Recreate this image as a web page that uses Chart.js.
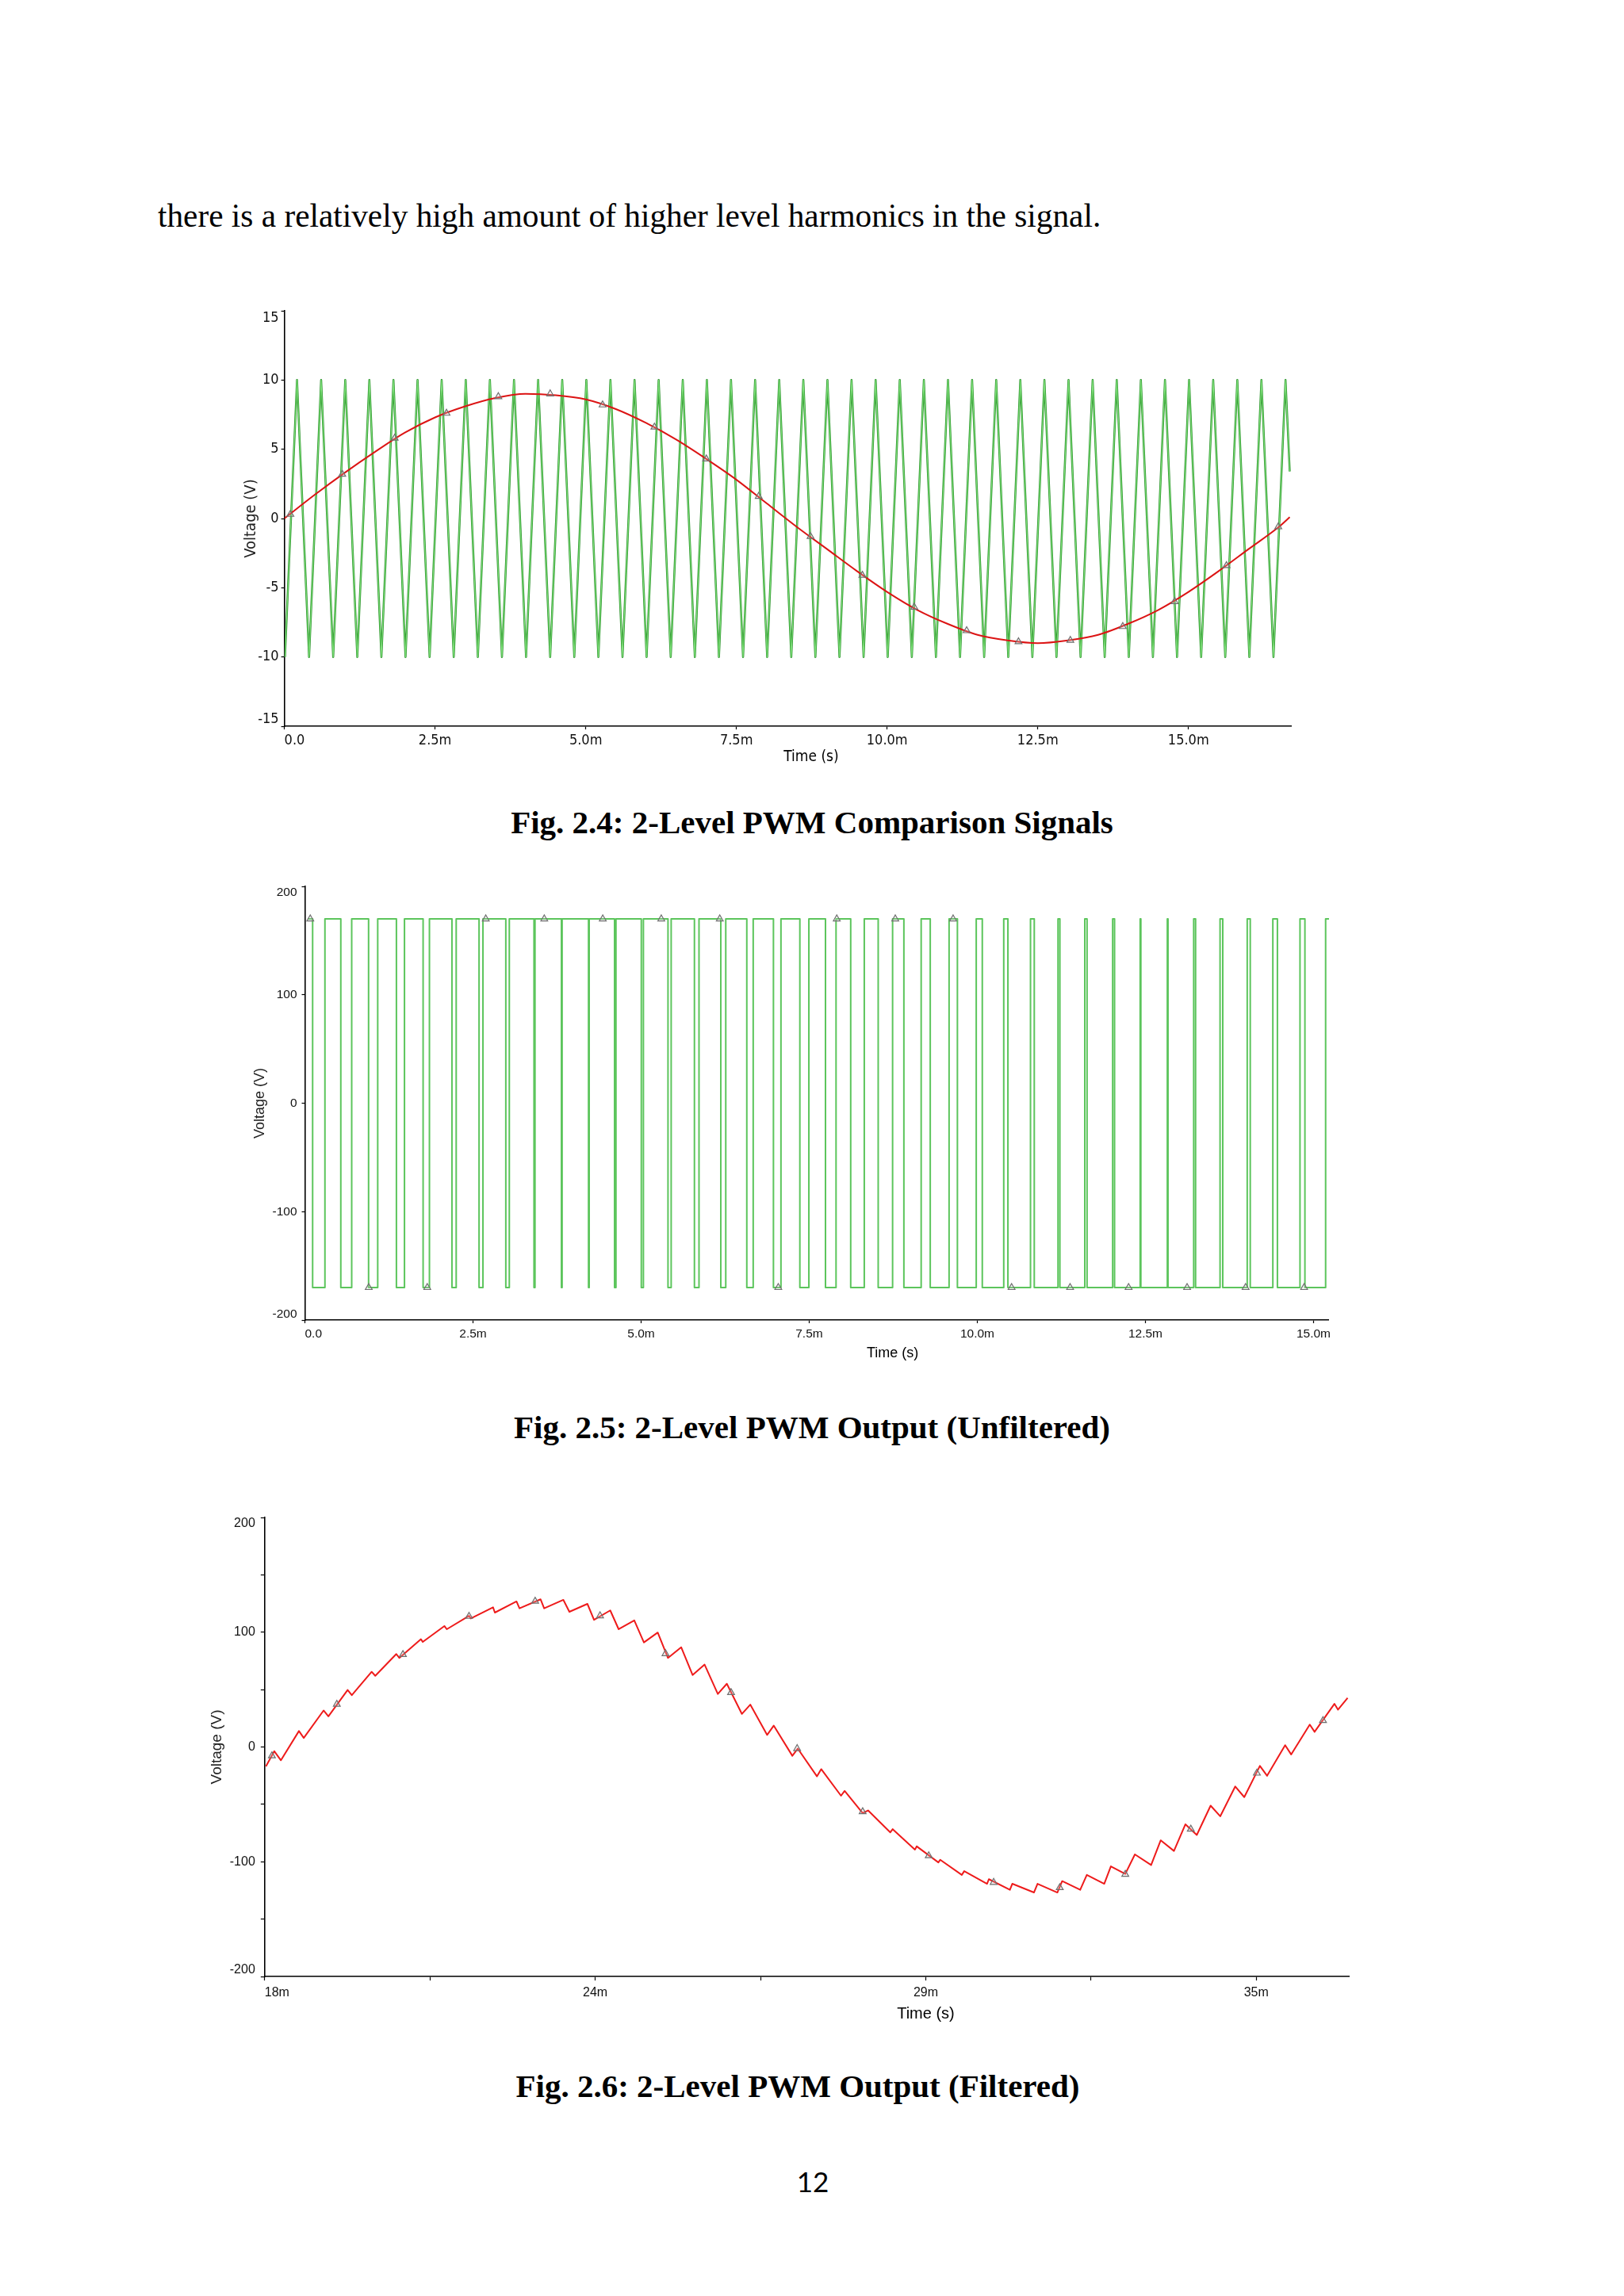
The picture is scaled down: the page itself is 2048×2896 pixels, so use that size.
<!DOCTYPE html>
<html>
<head>
<meta charset="utf-8">
<script src="https://cdn.jsdelivr.net/npm/chart.js@4.4.1/dist/chart.umd.min.js"></script>
<style>
  html, body { margin: 0; padding: 0; background: #fff; }
  .page { position: relative; width: 2048px; height: 2896px; overflow: hidden; background: #fff; }
  .txt { position: absolute; white-space: nowrap; line-height: 1; color: #000; }
  .body-text { left: 199px; top: 248px; font: 41.3px 'Liberation Serif', 'Times New Roman', serif; }
  .caption { left: 0; width: 2048px; text-align: center; font: bold 41px 'Liberation Serif', 'Times New Roman', serif; }
  .page-num { left: 0; width: 2050px; top: 2730px; text-align: center; font: 35px Lato, 'Open Sans', sans-serif; }
  canvas { position: absolute; }
</style>
</head>
<body>
<div class="page">
  <div class="txt body-text">there is a relatively high amount of higher level harmonics in the signal.</div>
  <canvas id="chart1" width="1400" height="610" style="left:240px;top:370px"></canvas>
  <div class="txt caption" style="top:1013px">Fig. 2.4: 2-Level PWM Comparison Signals</div>
  <canvas id="chart2" width="1424" height="640" style="left:260px;top:1090px"></canvas>
  <div class="txt caption" style="top:1776px">Fig. 2.5: 2-Level PWM Output (Unfiltered)</div>
  <canvas id="chart3" width="1520" height="680" style="left:200px;top:1890px"></canvas>
  <div class="txt caption" style="top:2607px;left:-18px">Fig. 2.6: 2-Level PWM Output (Filtered)</div>
  <div class="txt page-num">12</div>
</div>

<script>
// ---- Fig 2.4: comparison signals (time in ms) ----
const carrierTroughT = [0.01, 0.41, 0.81, 1.21, 1.61, 2.01, 2.41, 2.81, 3.21, 3.61, 4.01, 4.41, 4.81, 5.21,
    5.61, 6.01, 6.41, 6.81, 7.21, 7.61, 8.01, 8.41, 8.81, 9.21, 9.61, 10.01, 10.41, 10.81, 11.21, 11.61,
    12.01, 12.41, 12.81, 13.21, 13.61, 14.01, 14.41, 14.81, 15.21, 15.61, 16.01, 16.41];
const carrierPeakT = [0.21, 0.61, 1.01, 1.41, 1.81, 2.21, 2.61, 3.01, 3.41, 3.81, 4.21, 4.61, 5.01, 5.41,
    5.81, 6.21, 6.61, 7.01, 7.41, 7.81, 8.21, 8.61, 9.01, 9.41, 9.81, 10.21, 10.61, 11.01, 11.41, 11.81,
    12.21, 12.61, 13.01, 13.41, 13.81, 14.21, 14.61, 15.01, 15.41, 15.81, 16.21, 16.61];
const carrierLevels = [-10, 10];
const carrierEnd = [16.68, 3.4];

const sineT = [0, 0.5, 1, 1.5, 2, 2.5, 3, 3.5, 4, 4.5, 5, 5.5, 6, 6.5, 7, 7.5, 8, 8.5, 9, 9.5, 10, 10.5,
    11, 11.5, 12, 12.5, 13, 13.5, 14, 14.5, 15, 15.5, 16, 16.5, 16.68];
const sineV = [0, 1.7, 3.3, 4.8, 6.2, 7.3, 8.1, 8.7, 9.0, 8.9, 8.6, 7.9, 6.9, 5.7, 4.3, 2.8, 1.1, -0.6,
    -2.2, -3.8, -5.3, -6.6, -7.6, -8.4, -8.8, -9.0, -8.8, -8.4, -7.6, -6.6, -5.3, -3.8, -2.2, -0.6, 0.1];

const markT1 = [0.10, 0.96, 1.83, 2.69, 3.55, 4.41, 5.28, 6.14, 7.00, 7.87, 8.73, 9.59, 10.45, 11.32,
    12.18, 13.04, 13.91, 14.77, 15.63, 16.49];
const markV1 = [0.3, 3.2, 5.8, 7.6, 8.8, 9.0, 8.2, 6.6, 4.3, 1.6, -1.3, -4.1, -6.4, -8.1, -8.9, -8.8,
    -7.8, -6.0, -3.4, -0.6];

const xTicks1 = [0, 2.5, 5, 7.5, 10, 12.5, 15];
const xLabels1 = ['0.0', '2.5m', '5.0m', '7.5m', '10.0m', '12.5m', '15.0m'];
const yTicks1 = [-15, -10, -5, 0, 5, 10, 15];
const yLabels1 = ['-15', '-10', '-5', '0', '5', '10', '15'];

// ---- Fig 2.5: unfiltered PWM output, switch times (ms) and level after each switch ----
const pwmT = [0.05, 0.115, 0.298, 0.534, 0.696, 0.947, 1.083, 1.361, 1.481, 1.758,
    1.852, 2.187, 2.25, 2.59, 2.648, 2.988, 3.04, 3.407, 3.422, 3.815,
    3.825, 4.218, 4.228, 4.605, 4.626, 5.003, 5.034, 5.40, 5.447, 5.793,
    5.861, 6.185, 6.259, 6.572, 6.667, 6.968, 7.08, 7.361, 7.495, 7.742,
    7.899, 8.117, 8.319, 8.526, 8.74, 8.908, 9.165, 9.30, 9.58, 9.704,
    9.984, 10.074, 10.393, 10.455, 10.791, 10.847, 11.20, 11.228, 11.598, 11.632,
    12.013, 12.041, 12.422, 12.432, 12.826, 12.836, 13.218, 13.246, 13.61, 13.65,
    14.014, 14.059, 14.395, 14.463, 14.799, 14.872, 15.18, 15.236];
const pwmV = [170, -170, 170, -170, 170, -170, 170, -170, 170, -170,
    170, -170, 170, -170, 170, -170, 170, -170, 170, -170,
    170, -170, 170, -170, 170, -170, 170, -170, 170, -170,
    170, -170, 170, -170, 170, -170, 170, -170, 170, -170,
    170, -170, 170, -170, 170, -170, 170, -170, 170, -170,
    170, -170, 170, -170, 170, -170, 170, -170, 170, -170,
    170, -170, 170, -170, 170, -170, 170, -170, 170, -170,
    170, -170, 170, -170, 170, -170, 170, 170];

const markT2 = [0.08, 0.95, 1.82, 2.69, 3.56, 4.43, 5.30, 6.17, 7.04, 7.91, 8.78, 9.64, 10.51, 11.38,
    12.25, 13.12, 13.99, 14.86];
const markV2 = [170, -170, -170, 170, 170, 170, 170, 170, -170, 170, 170, 170, -170, -170, -170, -170,
    -170, -170];

const xTicks2 = [0, 2.5, 5, 7.5, 10, 12.5, 15];
const xLabels2 = ['0.0', '2.5m', '5.0m', '7.5m', '10.0m', '12.5m', '15.0m'];
const yTicks2 = [-200, -100, 0, 100, 200];
const yLabels2 = ['-200', '-100', '0', '100', '200'];

// ---- Fig 2.6: filtered output ----
const filtT = [18.02, 18.16, 18.27, 18.57, 18.65, 18.98, 19.06, 19.38, 19.45, 19.78,
    19.84, 20.19, 20.24, 20.60, 20.63, 20.99, 21.03, 21.40, 21.43, 21.80,
    21.83, 22.19, 22.24, 22.59, 22.65, 22.97, 23.07, 23.37, 23.48, 23.75,
    23.89, 24.15, 24.31, 24.54, 24.71, 24.93, 25.12, 25.32, 25.54, 25.69,
    25.94, 26.08, 26.36, 26.47, 26.78, 26.87, 27.19, 27.26, 27.59, 27.65,
    27.95, 28.04, 28.41, 28.45, 28.82, 28.85, 29.21, 29.24, 29.60, 29.64,
    30.02, 30.05, 30.40, 30.44, 30.80, 30.86, 31.19, 31.27, 31.57, 31.68,
    31.97, 32.08, 32.32, 32.48, 32.75, 32.91, 33.13, 33.32, 33.51, 33.74,
    33.90, 34.15, 34.30, 34.56, 34.68, 34.98, 35.08, 35.39, 35.47, 35.80,
    35.86, 36.02];
const filtV = [-16.9, -3.7, -11.6, 13.9, 7.9, 31.8, 26.7, 49.7, 45.1, 65.5,
    62.0, 81.0, 77.6, 93.9, 91.5, 105.4, 102.6, 114.3, 112.0, 121.7,
    117.1, 126.8, 120.8, 128.7, 120.8, 128.2, 117.8, 124.7, 110.8, 119.0,
    102.6, 110.3, 91.1, 99.7, 77.6, 86.9, 62.7, 71.8, 46.2, 55.1,
    28.8, 36.9, 10.5, 18.6, -7.7, -1.4, -25.6, -19.3, -42.5, -38.3,
    -57.6, -55.3, -74.4, -71.6, -89.4, -86.6, -100.6, -98.3, -111.5, -108.2,
    -119.2, -115.2, -124.5, -119.2, -126.8, -119.2, -126.8, -116.9, -124.5, -111.5,
    -119.2, -104.0, -110.6, -93.6, -102.9, -81.3, -90.6, -67.4, -76.7, -51.1,
    -60.4, -34.4, -43.7, -16.5, -25.1, 1.6, -6.5, 19.5, 13.2, 37.6,
    32.5, 42.7];

const markT3 = [18.12, 19.20, 20.30, 21.40, 22.50, 23.58, 24.67, 25.76, 26.86, 27.95, 29.05, 30.13,
    31.23, 32.32, 33.41, 34.51, 35.61];
const markV3 = [-7.7, 37.2, 80.6, 113.8, 127.0, 114.3, 81.3, 47.4, -1.4, -56.4, -94.8, -118.0,
    -122.6, -111.0, -71.6, -22.8, 23.0];

const xTicks3 = [18, 20.75, 23.5, 26.25, 29, 31.75, 34.5];
const xLabels3 = ['18m', '', '24m', '', '29m', '', '35m'];
const yTicks3 = [-200, -150, -100, -50, 0, 50, 100, 150, 200];
const yLabels3 = ['-200', '', '-100', '', '0', '', '100', '', '200'];

const SANS = "'Liberation Sans', Arial, sans-serif";
const NARROW = "'Liberation Sans Narrow', 'DejaVu Sans Condensed', 'Liberation Sans', sans-serif";

const toPoints = (xs, ys) => xs.map((x, i) => ({ x, y: ys[i] }));

// x axis title drawn under a given time value (the simulator does not centre it)
const xTitlePlugin = {
    id: 'xTitle',
    afterDraw(chart, args, opts) {
        const { ctx } = chart;
        const x = chart.scales.x.getPixelForValue(opts.at);
        ctx.save();
        ctx.font = `${opts.size}px ${opts.family}`;
        ctx.fillStyle = '#000';
        ctx.textAlign = 'center';
        ctx.textBaseline = 'middle';
        ctx.fillText(opts.text, x, opts.y);
        ctx.restore();
    }
};

// end labels sit inside the axis like in the simulator plots
const yLabelCb = (labels) => (value, index, ticks) => {
    const text = labels[index];
    if (index === ticks.length - 1) return ['', text];
    if (index === 0) return [text, ''];
    return text;
};
const xLabelCb = (labels, pad) => (value, index) =>
    index === 0 ? ' '.repeat(pad) + labels[0] : labels[index];

const markerSet = (xs, ys) => ({
    data: toPoints(xs, ys),
    showLine: false,
    pointStyle: 'triangle',
    pointRadius: 5,
    pointBorderWidth: 1.2,
    pointBorderColor: '#6f6f6f',
    pointBackgroundColor: 'rgba(200, 200, 200, 0.25)'
});

const makeChart = (id, c) => new Chart(document.getElementById(id), {
    type: 'line',
    data: { datasets: c.datasets },
    options: {
        responsive: false,
        animation: false,
        devicePixelRatio: 1,
        events: [],
        layout: { autoPadding: false, padding: { top: c.padTop, right: c.padRight, left: 0, bottom: 0 } },
        elements: { point: { radius: 0 }, line: { tension: 0, borderJoinStyle: 'round' } },
        plugins: {
            legend: { display: false },
            tooltip: { enabled: false },
            xTitle: c.xTitle
        },
        scales: {
            x: {
                type: 'linear',
                min: c.xMin,
                max: c.xMax,
                afterBuildTicks: (scale) => { scale.ticks = c.xTicks.map(v => ({ value: v })); },
                afterFit: (scale) => { scale.height = c.xHeight; },
                ticks: {
                    autoSkip: false,
                    maxRotation: 0,
                    minRotation: 0,
                    padding: c.xPad,
                    color: '#111',
                    font: { family: c.family, size: c.tickSize, lineHeight: 1 },
                    callback: xLabelCb(c.xLabels, c.firstPad)
                },
                grid: { drawOnChartArea: false, drawTicks: true, tickLength: c.tickLen, tickColor: '#000', tickWidth: 1.2 },
                border: { display: true, color: '#000', width: 1.6 }
            },
            y: {
                type: 'linear',
                min: c.yMin,
                max: c.yMax,
                afterBuildTicks: (scale) => { scale.ticks = c.yTicks.map(v => ({ value: v })); },
                afterFit: (scale) => { scale.width = c.yWidth; },
                ticks: {
                    autoSkip: false,
                    padding: c.yPad,
                    color: '#111',
                    font: { family: c.family, size: c.tickSize, lineHeight: 1 },
                    callback: yLabelCb(c.yLabels)
                },
                title: {
                    display: true,
                    text: 'Voltage (V)',
                    color: '#222',
                    font: { family: c.family, size: c.titleSize, lineHeight: 1.2 },
                    padding: { top: c.yTitlePad, bottom: 0 }
                },
                grid: { drawOnChartArea: false, drawTicks: true, tickLength: c.tickLen, tickColor: '#000', tickWidth: 1.2 },
                border: { display: true, color: '#000', width: 1.6 }
            }
        }
    },
    plugins: [xTitlePlugin]
});

// carrier triangle from its troughs and peaks
const carrierPoints = [];
carrierTroughT.forEach((t, i) => {
    carrierPoints.push({ x: t, y: carrierLevels[0] });
    carrierPoints.push({ x: carrierPeakT[i], y: carrierLevels[1] });
});
carrierPoints.push({ x: carrierEnd[0], y: carrierEnd[1] });

makeChart('chart1', {
    datasets: [
        markerSet(markT1, markV1),
        { data: toPoints(sineT, sineV), borderColor: '#dc1414', borderWidth: 2, cubicInterpolationMode: 'monotone' },
        { data: carrierPoints, borderColor: '#7fe27a', borderWidth: 1.1 },
        { data: carrierPoints, borderColor: '#2b912b', borderWidth: 2.5 }
    ],
    xMin: 0, xMax: 16.7, yMin: -15, yMax: 15,
    xTicks: xTicks1, xLabels: xLabels1, yTicks: yTicks1, yLabels: yLabels1,
    padTop: 22, padRight: 12, yWidth: 118.6, xHeight: 64,
    family: NARROW, tickSize: 18, titleSize: 20, tickLen: 4, xPad: 5, yPad: 3, firstPad: 5,
    yTitlePad: 64.8,
    xTitle: { text: 'Time (s)', at: 8.74, y: 585.5, size: 19, family: NARROW }
});

makeChart('chart2', {
    datasets: [
        markerSet(markT2, markV2),
        { data: toPoints(pwmT, pwmV), borderColor: '#5cc55c', borderWidth: 2, stepped: 'before' }
    ],
    xMin: 0, xMax: 15.23, yMin: -200, yMax: 200,
    xTicks: xTicks2, xLabels: xLabels2, yTicks: yTicks2, yLabels: yLabels2,
    padTop: 28, padRight: 0, yWidth: 124.5, xHeight: 65,
    family: SANS, tickSize: 15.5, titleSize: 18, tickLen: 4, xPad: 6, yPad: 6, firstPad: 5,
    yTitlePad: 57.4,
    xTitle: { text: 'Time (s)', at: 8.74, y: 617, size: 18, family: SANS }
});

makeChart('chart3', {
    datasets: [
        markerSet(markT3, markV3),
        { data: toPoints(filtT, filtV), borderColor: '#ee1b1b', borderWidth: 2 }
    ],
    xMin: 18, xMax: 36.04, yMin: -200, yMax: 200,
    xTicks: xTicks3, xLabels: xLabels3, yTicks: yTicks3, yLabels: yLabels3,
    padTop: 24, padRight: 19, yWidth: 133.8, xHeight: 77,
    family: SANS, tickSize: 16, titleSize: 19, tickLen: 5, xPad: 8, yPad: 7, firstPad: 7,
    yTitlePad: 62.6,
    xTitle: { text: 'Time (s)', at: 29, y: 650, size: 20, family: SANS }
});
</script>
</body>
</html>
